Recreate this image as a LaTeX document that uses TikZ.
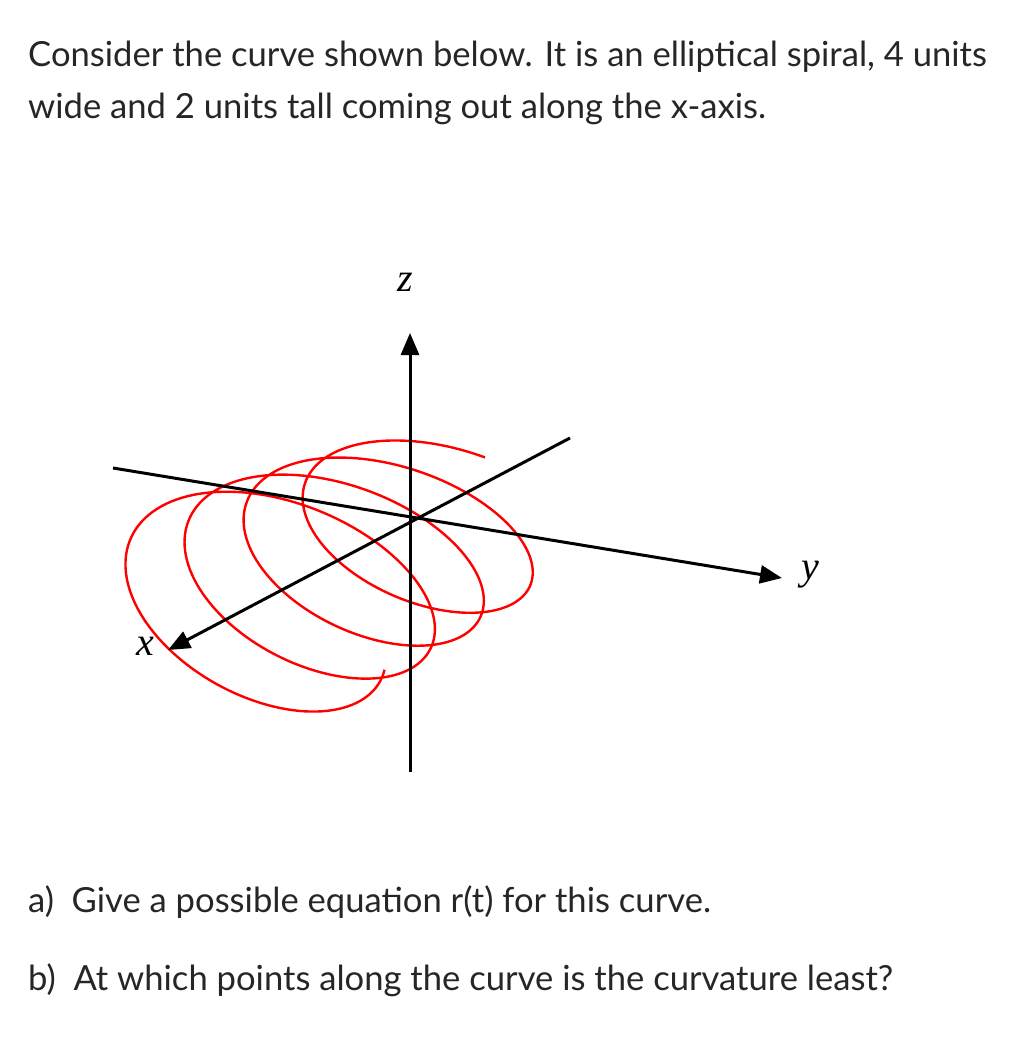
\documentclass[tikz,border=0pt]{standalone}
\usepackage{fontspec}
\setmainfont{Lato}
\newfontfamily\lblfont{Liberation Serif}
\usetikzlibrary{arrows.meta}
\begin{document}
\begin{tikzpicture}[x=1pt,y=-1pt,
  txt/.style={anchor=base west,inner sep=0pt,font=\fontsize{34.6}{40}\selectfont,text=black!85},
  ax/.style={line width=3pt,-{Triangle[length=22pt,width=18pt]}},
  lbl/.style={font=\lblfont\itshape\fontsize{40}{42}\selectfont}]
\useasboundingbox (0,0) rectangle (1018,1046);
\node[txt] (t1) at (28,67) {Consider the curve shown below. It is an elliptical spiral, 4 units};
\node[txt] (t2) at (28,118) {wide and 2 units tall coming out along the x-axis.};
\node[txt] (qa) at (28,912) {a)\ \ Give a possible equation r(t) for this curve.};
\node[txt] (qb) at (28,990) {b)\ \ At which points along the curve is the curvature least?};
\coordinate (zs) at (410,772); \coordinate (ze) at (410,333);
\coordinate (ys) at (113,468); \coordinate (ye) at (782,578);
\coordinate (xs) at (570,438); \coordinate (xe) at (168,650);
\draw[red,line width=2.4pt] plot[domain=0.2:3.97,samples=500,variable=\t]
  ({430-54*(\t-0.5)+(1+0.04*(\t-0.5))*127*cos(360*\t)},
   {523+25*(\t-0.5)+(1+0.1*(\t-0.5))*(31*cos(360*\t)-73*sin(360*\t))});
\draw[ax] (zs) -- (ze);
\draw[ax] (ys) -- (ye);
\draw[ax] (xs) -- (xe);
\node[lbl] (zl) at (405,282) {z};
\node[lbl] (yl) at (810,575) {y};
\node[lbl] (xl) at (145,646) {x};
\end{tikzpicture}
\end{document}
